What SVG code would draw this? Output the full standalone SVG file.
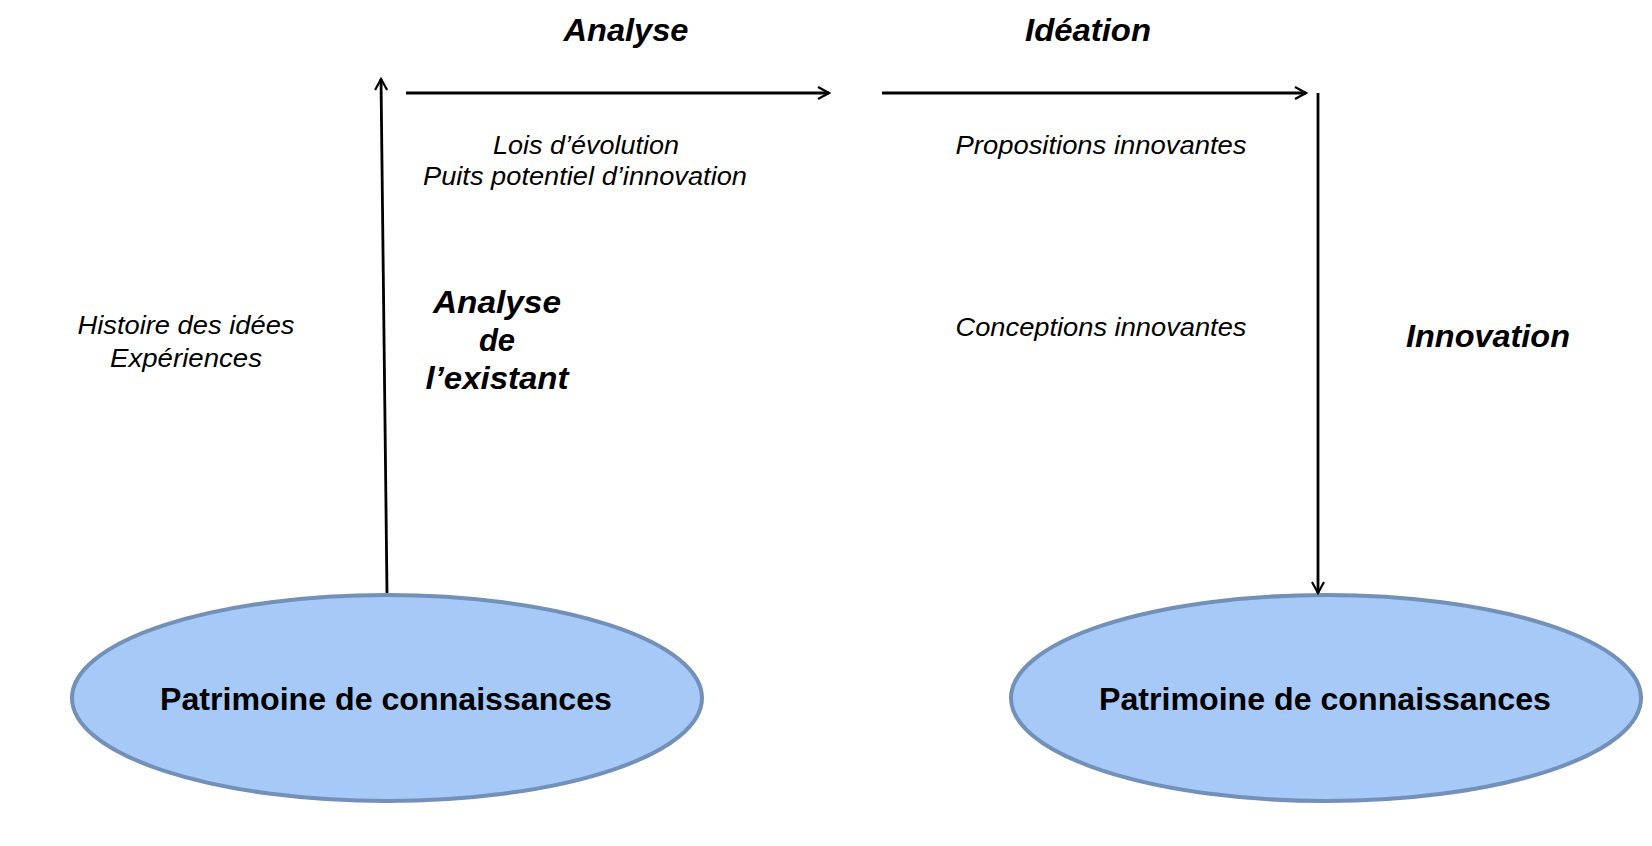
<svg xmlns="http://www.w3.org/2000/svg" width="1652" height="846" viewBox="0 0 1652 846">
<defs>
<marker id="ah" markerWidth="14" markerHeight="14" refX="12" refY="7" orient="auto" markerUnits="userSpaceOnUse"><path d="M1,1 L12,7 L1,13" fill="none" stroke="#000" stroke-width="2.2"/></marker>
<style>
.it{font-family:"Liberation Sans",Arial,sans-serif;font-style:italic;font-size:25px;fill:#000;text-anchor:middle}
.bi{font-family:"Liberation Sans",Arial,sans-serif;font-style:italic;font-weight:bold;font-size:31px;fill:#000;text-anchor:middle}
.b{font-family:"Liberation Sans",Arial,sans-serif;font-weight:bold;font-size:31px;fill:#000;text-anchor:middle}
.el{fill:#a6c9f7;stroke:#7390b8;stroke-width:4}
.c{stroke:#000;stroke-width:2.8;fill:none;marker-end:url(#ah)}
</style>
</defs>
<g id="n1"><ellipse class="el" cx="387" cy="698" rx="315" ry="103"/><text class="b" x="386" y="710" textLength="452" lengthAdjust="spacingAndGlyphs">Patrimoine de connaissances</text></g>
<g id="n2"><ellipse class="el" cx="1326" cy="698" rx="315" ry="103"/><text class="b" x="1325" y="710" textLength="452" lengthAdjust="spacingAndGlyphs">Patrimoine de connaissances</text></g>
<g id="connectors">
<line class="c" x1="387" y1="593" x2="381" y2="79"/>
<line class="c" x1="406" y1="93" x2="829" y2="93"/>
<line class="c" x1="882" y1="93" x2="1306" y2="93"/>
<line class="c" x1="1318" y1="93" x2="1318" y2="593"/>
</g>
<g id="labels">
<text class="bi" x="626" y="41" textLength="125" lengthAdjust="spacingAndGlyphs">Analyse</text>
<text class="bi" x="1088" y="41" textLength="126" lengthAdjust="spacingAndGlyphs">Idéation</text>
<text class="it" x="586" y="154" textLength="186" lengthAdjust="spacingAndGlyphs">Lois d’évolution</text>
<text class="it" x="585" y="185" textLength="324" lengthAdjust="spacingAndGlyphs">Puits potentiel d’innovation</text>
<text class="it" x="1101" y="154" textLength="291" lengthAdjust="spacingAndGlyphs">Propositions innovantes</text>
<text class="it" x="1101" y="336" textLength="291" lengthAdjust="spacingAndGlyphs">Conceptions innovantes</text>
<text class="it" x="186" y="334" textLength="217" lengthAdjust="spacingAndGlyphs">Histoire des idées</text>
<text class="it" x="186" y="367" textLength="152" lengthAdjust="spacingAndGlyphs">Expériences</text>
<text class="bi" x="497" y="313" textLength="128" lengthAdjust="spacingAndGlyphs">Analyse</text>
<text class="bi" x="497" y="351">de</text>
<text class="bi" x="497" y="389" textLength="143" lengthAdjust="spacingAndGlyphs">l’existant</text>
<text class="bi" x="1488" y="347" textLength="164" lengthAdjust="spacingAndGlyphs">Innovation</text>
</g>
</svg>
